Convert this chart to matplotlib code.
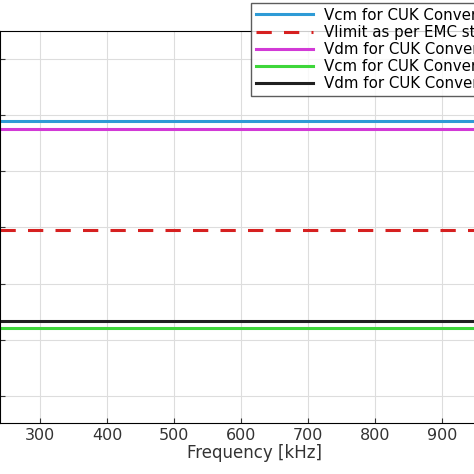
import matplotlib
matplotlib.use('Agg')
import matplotlib.pyplot as plt

freq = [240, 1000]
vcm_nofilter = [59.0, 59.0]
vlimit = [39.6, 39.6]
vdm_nofilter = [57.5, 57.5]
vcm_filter = [22.1, 22.1]
vdm_filter = [23.4, 23.4]

labels = ["Vcm for CUK Converter without filter",
          "Vlimit as per EMC standard",
          "Vdm for CUK Converter without filter",
          "Vcm for CUK Converter with filter",
          "Vdm for CUK Converter with filter"]

fig = plt.figure(figsize=(4.74, 4.74), dpi=100)
ax = fig.add_axes([0.0, 0.108, 1.074, 0.827])

ax.plot(freq, vcm_nofilter, color="#2e9bd6", lw=2.2, label=labels[0])
ax.plot(freq, vlimit, color="#d62020", lw=2.2, ls=(0, (5, 4)), label=labels[1])
ax.plot(freq, vdm_nofilter, color="#d23ad6", lw=2.2, label=labels[2])
ax.plot(freq, vcm_filter, color="#3ed63a", lw=2.2, label=labels[3])
ax.plot(freq, vdm_filter, color="#202020", lw=2.2, label=labels[4])

ax.set_xlim(240, 1000)
ax.set_ylim(5.2, 75)
ax.set_xticks(range(300, 1001, 100))
ax.set_yticks(range(10, 71, 10))
ax.tick_params(labelsize=11.5, colors="#333333", direction="in")
ax.grid(True, color="#dddddd", lw=0.8)
ax.set_xlabel("Frequency [kHz]", fontsize=12, color="#333333", labelpad=1)

ax.legend(loc="upper left", bbox_to_anchor=(251 / 474, 1 - 3 / 474),
          bbox_transform=fig.transFigure, fontsize=10.8, frameon=True,
          fancybox=False, edgecolor="#333333", handlelength=3.8,
          borderaxespad=0, labelspacing=0.15, borderpad=0.3)

plt.savefig("out.png", dpi=100)
